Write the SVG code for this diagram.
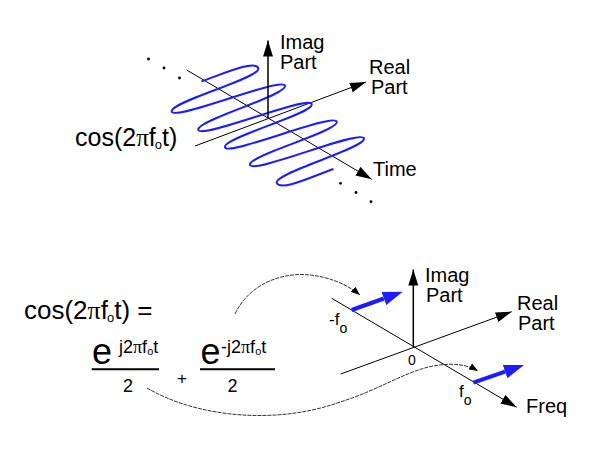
<svg xmlns="http://www.w3.org/2000/svg" width="594" height="459" viewBox="0 0 594 459">
<style>
text{font-family:"Liberation Sans",Arial,sans-serif;fill:#000}
.pi{font-family:"Liberation Serif","Times New Roman",serif}
.ax{stroke:#000;stroke-width:1;fill:none}
.ax2{stroke:#000;stroke-width:1.5;fill:none}
.dash{stroke:#333;stroke-width:1;fill:none;stroke-dasharray:4 1}
.blue{stroke:#1c1cff;stroke-width:4;fill:none}
</style>
<defs>
<marker id="ah" markerUnits="userSpaceOnUse" markerWidth="16" markerHeight="10" refX="16" refY="5" orient="auto"><path d="M0,0 L16,5 L0,10 z" fill="#000"/></marker>
<marker id="sh" markerUnits="userSpaceOnUse" markerWidth="9" markerHeight="7" refX="9" refY="3.5" orient="auto"><path d="M0,0 L9,3.5 L0,7 z" fill="#000"/></marker>
<marker id="bh" markerUnits="userSpaceOnUse" markerWidth="20" markerHeight="14" refX="0" refY="7" orient="auto"><path d="M0,0 L20,7 L0,14 z" fill="#1c1cff"/></marker>
</defs>

<g id="top-axes">
<line class="ax" x1="186.7" y1="70" x2="371.7" y2="179.3" marker-end="url(#ah)"/>
<line class="ax" x1="195" y1="146" x2="366" y2="82" marker-end="url(#ah)"/>
</g>
<g id="top-wave">
<path fill="none" stroke="#1c1cff" stroke-width="2" d="M201.5,81.5 C220.4,74.9 255,58.9 258.3,68.3
C261.6,77.7 168.4,102.3 171.7,111.7
C175,121.1 281.7,76.3 285,85.7
C288.3,95.1 195,120.6 198.3,130
C201.6,139.4 308.4,94.6 311.7,104
C315,113.4 221.7,137.9 225,147.3
C228.3,156.7 333.4,112.3 336.7,121.7
C340,131.1 246.7,155.6 250,165
C253.3,174.4 360.7,128.9 364,138.3
C367.3,147.7 273.4,173.3 276.7,182.7
C280,192.1 314.6,175.6 333.5,169"/>
</g>
<g id="top-imag-axis">
<line class="ax2" x1="268" y1="118.3" x2="268" y2="40.5" marker-end="url(#ah)"/>
</g>
<g id="top-dots" fill="#000">
<circle cx="148.5" cy="59" r="1.4"/><circle cx="164" cy="68" r="1.4"/><circle cx="179.5" cy="78" r="1.4"/>
<circle cx="340.5" cy="183.3" r="1.4"/><circle cx="356" cy="192.5" r="1.4"/><circle cx="371" cy="201.7" r="1.4"/>
</g>
<g id="top-labels" font-size="20">
<text x="280" y="48.5">Imag</text><text x="280" y="68.5">Part</text>
<text x="369" y="74">Real</text><text x="371" y="94">Part</text>
<text x="373" y="176">Time</text>
<text x="75" y="145.5" font-size="25">cos(2<tspan class="pi">π</tspan>f<tspan font-size="13" dx="-1" dy="3">o</tspan><tspan dy="-3">t)</tspan></text>
</g>

<g id="equation">
<text x="24" y="319" font-size="26">cos(2<tspan class="pi">π</tspan>f<tspan font-size="13" dx="-1" dy="3">o</tspan><tspan dy="-3">t) =</tspan></text>
<text x="92" y="364" font-size="36">e</text>
<text x="119" y="353" font-size="18">j2<tspan class="pi">π</tspan>f<tspan font-size="11" dy="2">o</tspan><tspan dy="-2">t</tspan></text>
<line x1="91.7" y1="369.3" x2="159" y2="369.3" stroke="#000" stroke-width="2"/>
<text x="128" y="392" font-size="18" text-anchor="middle">2</text>
<text x="182" y="384" font-size="17" text-anchor="middle">+</text>
<text x="200.5" y="364" font-size="36">e</text>
<text x="221" y="353" font-size="18">-j2<tspan class="pi">π</tspan>f<tspan font-size="11" dy="2">o</tspan><tspan dy="-2">t</tspan></text>
<line x1="200" y1="369.3" x2="275" y2="369.3" stroke="#000" stroke-width="2"/>
<text x="232.5" y="392" font-size="18" text-anchor="middle">2</text>
</g>

<g id="bottom-axes">
<line class="ax" x1="331.7" y1="298.3" x2="516.7" y2="407.3" marker-end="url(#ah)"/>
<line class="ax" x1="340.7" y1="374" x2="511.7" y2="311.7" marker-end="url(#ah)"/>
<line class="ax2" x1="413.3" y1="347.3" x2="413.3" y2="269.5" marker-end="url(#ah)"/>
</g>
<g id="neg-f0-arrow">
<line class="blue" x1="351.7" y1="310" x2="383.9" y2="298.5" marker-end="url(#bh)"/>
</g>
<g id="pos-f0-arrow">
<line class="blue" x1="473.3" y1="382.7" x2="505.1" y2="371.6" marker-end="url(#bh)"/>
</g>
<g id="bottom-labels" font-size="20">
<text x="425" y="282">Imag</text><text x="426" y="302">Part</text>
<text x="517" y="310">Real</text><text x="518" y="330">Part</text>
<text x="526" y="413">Freq</text>
<text x="408" y="365" font-size="14">0</text>
<text x="329" y="325" font-size="17">-f<tspan font-size="14" dy="8">o</tspan></text>
<text x="459" y="397" font-size="17">f<tspan font-size="14" dy="8">o</tspan></text>
</g>

<g id="connectors">
<path class="dash" d="M235,314 C250,282 285,272 310,275 C330,277 348,285 360,295" marker-end="url(#sh)"/>
<path class="dash" d="M147,388 C200,419 280,424 340,402 C380,390 410,368 440,365 C455,363 468,365 478,371" marker-end="url(#sh)"/>
</g>
</svg>
